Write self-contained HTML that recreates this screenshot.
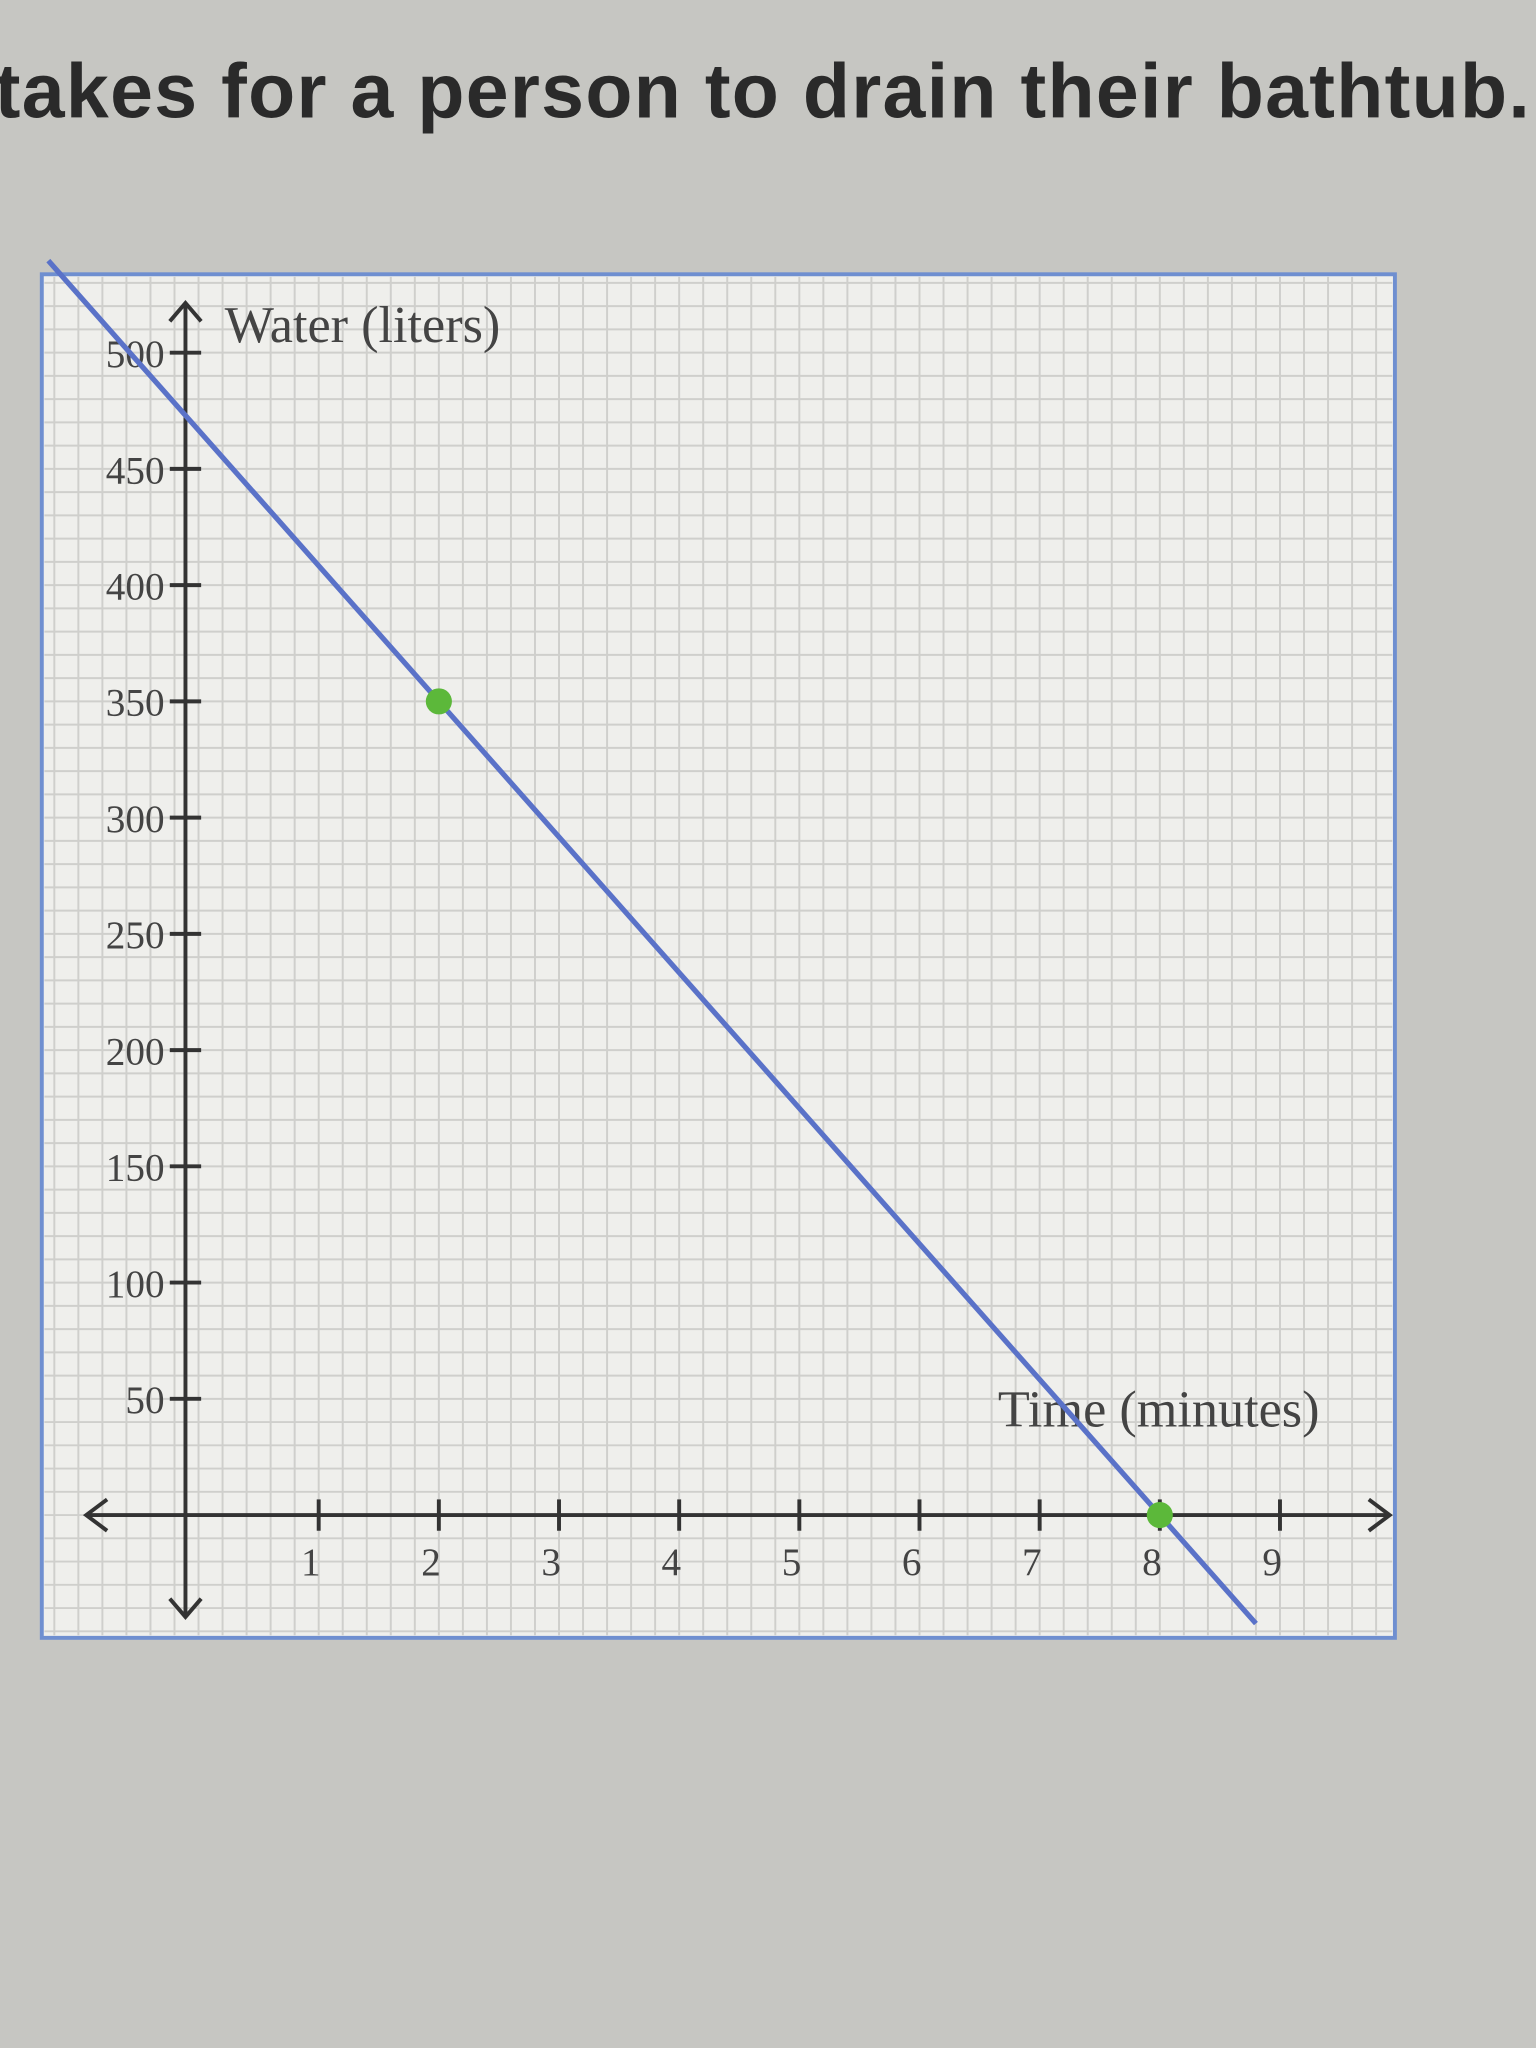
<!DOCTYPE html>
<html><head><meta charset="utf-8">
<style>
html,body{margin:0;padding:0;width:1536px;height:2048px;overflow:hidden;background:#c6c6c2;}
#wrap{position:absolute;left:0;top:0;width:1176px;height:1568px;transform:scale(1.3061);transform-origin:0 0;}
#title{position:absolute;left:-4px;top:36px;font:bold 59px "Liberation Sans",sans-serif;color:#2a2a2a;white-space:nowrap;letter-spacing:1px;}
svg{position:absolute;left:0;top:0;}
</style></head>
<body>
<div id="wrap">
<div id="title">takes for a person to drain their bathtub.</div>
<svg id="chart" width="1176" height="1568"></svg>
</div>
<script>
const xTicks=[1,2,3,4,5,6,7,8,9];
const yTicks=[50,100,150,200,250,300,350,400,450,500];
const pointsX=[2,8];
const pointsY=[350,0];
const NS='http://www.w3.org/2000/svg';
const svg=document.getElementById('chart');
const X0=152,XS=92,Y0=1160,YS=89/50;
const sx=v=>X0+v*XS, sy=v=>Y0-v*YS;
function mk(t,a,p){const e=document.createElementNS(NS,t);for(const k in a)e.setAttribute(k,a[k]);(p||svg).appendChild(e);return e;}
const bg=mk('rect',{x:32,y:210,width:1036,height:1044,fill:'#efefec',stroke:'#6f8fd0','stroke-width':3});


const grid=mk('g',{stroke:'#cfcfcc','stroke-width':1.5});


for(let v=-1.2;v<=10;v+=0.2){const x=sx(v);if(x>34&&x<1066)mk('line',{x1:x,y1:212,x2:x,y2:1252},grid);}
for(let v=-50;v<=540;v+=10){const y=sy(v);if(y>212&&y<1252)mk('line',{x1:34,y1:y,x2:1066,y2:y},grid);}
const ax=mk('g',{stroke:'#333','stroke-width':3,fill:'none'});


mk('line',{x1:68,y1:Y0,x2:1062,y2:Y0},ax);
mk('path',{d:`M82 ${Y0-12} L66 ${Y0} L82 ${Y0+12} M1048 ${Y0-12} L1064 ${Y0} L1048 ${Y0+12}`},ax);
mk('line',{x1:sx(0)-10,y1:234,x2:sx(0)-10,y2:1236},ax);
mk('path',{d:`M${sx(0)-22} 246 L${sx(0)-10} 232 L${sx(0)+2} 246 M${sx(0)-22} 1224 L${sx(0)-10} 1238 L${sx(0)+2} 1224`},ax);
xTicks.forEach(v=>{const x=sx(v);mk('line',{x1:x,y1:Y0-12,x2:x,y2:Y0+12},ax);
 const t=mk('text',{x:x-6,y:Y0+46,'font-size':30,'font-family':'Liberation Serif, serif',fill:'#444','text-anchor':'middle',stroke:'none'});t.textContent=v;
 
 });
yTicks.forEach(v=>{const y=sy(v);mk('line',{x1:sx(0)-22,y1:y,x2:sx(0)+2,y2:y},ax);
 const t=mk('text',{x:sx(0)-26,y:y+11,'font-size':30,'font-family':'Liberation Serif, serif',fill:'#444','text-anchor':'end',stroke:'none'});t.textContent=v;
 
 });
const yt=mk('text',{x:172,y:262,'font-size':40,'font-family':'Liberation Serif, serif',fill:'#444'});yt.textContent='Water (liters)';


const xt=mk('text',{x:764,y:1092,'font-size':40,'font-family':'Liberation Serif, serif',fill:'#444'});xt.textContent='Time (minutes)';


const m=(pointsY[1]-pointsY[0])/(pointsX[1]-pointsX[0]);
const f=x=>pointsY[0]+m*(x-pointsX[0]);
const xa=-1.25,xb=8.8;
const ln=mk('line',{x1:sx(xa),y1:sy(f(xa)),x2:sx(xb),y2:sy(f(xb)),stroke:'#5a72c8','stroke-width':4});


pointsX.forEach((v,i)=>{const c=mk('circle',{cx:sx(v),cy:sy(pointsY[i]),r:10,fill:'#5cb83a'});
 
 });
</script>
</body></html>
